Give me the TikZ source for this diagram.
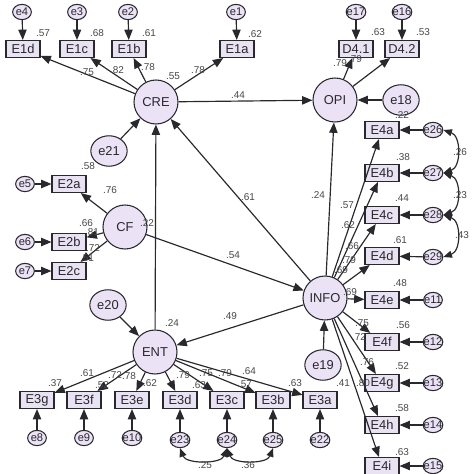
\documentclass[tikz,border=0pt]{standalone}
\usepackage{fontspec}
\setmainfont{Liberation Sans}
\usetikzlibrary{arrows.meta, shapes.geometric}
\definecolor{lav}{RGB}{236,226,246}
\definecolor{boxlav}{RGB}{232,226,242}
\definecolor{ink}{RGB}{40,40,45}

\begin{document}
\begin{tikzpicture}[
    x=0.03cm, y=-0.03cm,
    every node/.style={font=\fontsize{11}{12}\selectfont, text=ink},
    obs/.style={
        draw=ink,
        line width=0.9pt,
        fill=boxlav,
        inner xsep=2pt,
        inner ysep=0pt,
        minimum width=29pt,
        minimum height=14.5pt
    },
    latent/.style={
        circle,
        draw=ink,
        line width=0.9pt,
        fill=lav,
        inner sep=0pt,
        minimum size=1.32cm
    },
    err/.style={
        ellipse,
        draw=ink,
        line width=0.9pt,
        fill=lav,
        inner sep=-2pt,
        minimum width=16pt,
        minimum height=13pt,
        font=\fontsize{9.5}{10}\selectfont
    },
    bigerr/.style={
        ellipse,
        draw=ink,
        line width=0.9pt,
        fill=lav,
        inner sep=0pt,
        minimum width=31pt,
        minimum height=26pt
    },
    coef/.style={font=\fontsize{8.5}{9}\selectfont, text=black!72, inner sep=0pt},
    arrow/.style={-{Triangle[length=3.1mm, width=2.5mm]}, line width=1pt, draw=ink},
    cov/.style={{Triangle[length=2.6mm, width=2.1mm]}-{Triangle[length=2.6mm, width=2.1mm]}, line width=1pt, draw=ink}
]
\useasboundingbox (0,0) rectangle (474,474);

% latent variables
\node[latent] (CRE) at (156,102) {CRE};
\node[latent] (OPI) at (335,100) {OPI};
\node[latent] (CF) at (125,227) {CF};
\node[latent] (INFO) at (325,298) {INFO};
\node[latent] (ENT) at (155,352) {ENT};

\node[bigerr] (e18) at (401,100) {e18};
\node[bigerr] (e21) at (109,151) {e21};
\node[bigerr] (e20) at (108,305) {e20};
\node[bigerr] (e19) at (323,365) {e19};

% CRE indicators
\node[obs] (E1d) at (23,49) {E1d};
\node[obs] (E1c) at (77,49) {E1c};
\node[obs] (E1b) at (129,49) {E1b};
\node[obs] (E1a) at (237,49) {E1a};
\node[err] (e4) at (22,12) {e4};
\node[err] (e3) at (77,12) {e3};
\node[err] (e2) at (128,12) {e2};
\node[err] (e1) at (236,12) {e1};

% OPI indicators
\node[obs] (D41) at (356,49) {D4.1};
\node[obs] (D42) at (402,49) {D4.2};
\node[err] (e17) at (356,12) {e17};
\node[err] (e16) at (402,12) {e16};

% CF indicators
\node[obs] (E2a) at (69,184) {E2a};
\node[obs] (E2b) at (69,242) {E2b};
\node[obs] (E2c) at (69,271) {E2c};
\node[err] (e5) at (25,184) {e5};
\node[err] (e6) at (25,242) {e6};
\node[err] (e7) at (25,271) {e7};

% INFO indicators
\node[obs] (E4a) at (382,130) {E4a};
\node[obs] (E4b) at (382,173) {E4b};
\node[obs] (E4c) at (382,215) {E4c};
\node[obs] (E4d) at (382,256) {E4d};
\node[obs] (E4e) at (382,300) {E4e};
\node[obs] (E4f) at (382,342) {E4f};
\node[obs] (E4g) at (382,383) {E4g};
\node[obs] (E4h) at (382,425) {E4h};
\node[obs] (E4i) at (382,466) {E4i};
\node[err] (e26) at (433,130) {e26};
\node[err] (e27) at (433,173) {e27};
\node[err] (e28) at (433,215) {e28};
\node[err] (e29) at (433,257) {e29};
\node[err] (e11) at (433,300) {e11};
\node[err] (e12) at (433,342) {e12};
\node[err] (e13) at (433,383) {e13};
\node[err] (e14) at (433,425) {e14};
\node[err] (e15) at (433,466) {e15};

% ENT indicators
\node[obs] (E3g) at (37,400) {E3g};
\node[obs] (E3f) at (84,400) {E3f};
\node[obs] (E3e) at (132,400) {E3e};
\node[obs] (E3d) at (180,400) {E3d};
\node[obs] (E3c) at (227,400) {E3c};
\node[obs] (E3b) at (273,400) {E3b};
\node[obs] (E3a) at (320,400) {E3a};
\node[err] (e8) at (37,438) {e8};
\node[err] (e9) at (84,438) {e9};
\node[err] (e10) at (132,438) {e10};
\node[err] (e23) at (180,440) {e23};
\node[err] (e24) at (227,440) {e24};
\node[err] (e25) at (273,440) {e25};
\node[err] (e22) at (320,440) {e22};

% structural paths
\draw[arrow] (CRE) -- (OPI);
\draw[arrow] (INFO) -- (OPI);
\draw[arrow] (INFO) -- (CRE);
\draw[arrow] (ENT) -- (CRE);
\draw[arrow] (CF) -- (INFO);
\draw[arrow] (INFO) -- (ENT);
\draw[arrow] (e18) -- (OPI);
\draw[arrow] (e21) -- (CRE);
\draw[arrow] (e20) -- (ENT);
\draw[arrow] (e19) -- (INFO);

% loadings
\draw[arrow] (CRE) -- (E1d);
\draw[arrow] (CRE) -- (E1c);
\draw[arrow] (CRE) -- (E1b);
\draw[arrow] (CRE) -- (E1a);
\draw[arrow] (OPI) -- (D41);
\draw[arrow] (OPI) -- (D42);
\draw[arrow] (CF) -- (E2a);
\draw[arrow] (CF) -- (E2b);
\draw[arrow] (CF) -- (E2c);
\draw[arrow] (INFO) -- (E4a);
\draw[arrow] (INFO) -- (E4b);
\draw[arrow] (INFO) -- (E4c);
\draw[arrow] (INFO) -- (E4d);
\draw[arrow] (INFO) -- (E4e);
\draw[arrow] (INFO) -- (E4f);
\draw[arrow] (INFO) -- (E4g);
\draw[arrow] (INFO) -- (E4h);
\draw[arrow] (INFO) -- (E4i);
\draw[arrow] (ENT) -- (E3g);
\draw[arrow] (ENT) -- (E3f);
\draw[arrow] (ENT) -- (E3e);
\draw[arrow] (ENT) -- (E3d);
\draw[arrow] (ENT) -- (E3c);
\draw[arrow] (ENT) -- (E3b);
\draw[arrow] (ENT) -- (E3a);

% error terms
\draw[arrow] (e4) -- (E1d);
\draw[arrow] (e3) -- (E1c);
\draw[arrow] (e2) -- (E1b);
\draw[arrow] (e1) -- (E1a);
\draw[arrow] (e17) -- (D41);
\draw[arrow] (e16) -- (D42);
\draw[arrow] (e5) -- (E2a);
\draw[arrow] (e6) -- (E2b);
\draw[arrow] (e7) -- (E2c);
\draw[arrow] (e26) -- (E4a);
\draw[arrow] (e27) -- (E4b);
\draw[arrow] (e28) -- (E4c);
\draw[arrow] (e29) -- (E4d);
\draw[arrow] (e11) -- (E4e);
\draw[arrow] (e12) -- (E4f);
\draw[arrow] (e13) -- (E4g);
\draw[arrow] (e14) -- (E4h);
\draw[arrow] (e15) -- (E4i);
\draw[arrow] (e8) -- (E3g);
\draw[arrow] (e9) -- (E3f);
\draw[arrow] (e10) -- (E3e);
\draw[arrow] (e23) -- (E3d);
\draw[arrow] (e24) -- (E3c);
\draw[arrow] (e25) -- (E3b);
\draw[arrow] (e22) -- (E3a);

% covariances
\draw[cov] (e26.east) .. controls +(18,6) and +(18,-6) .. (e27.east);
\draw[cov] (e27.east) .. controls +(18,6) and +(18,-6) .. (e28.east);
\draw[cov] (e28.east) .. controls +(18,6) and +(18,-6) .. (e29.east);
\draw[cov] (e23.south) .. controls +(6,16) and +(-6,16) .. (e24.south);
\draw[cov] (e24.south) .. controls +(6,16) and +(-6,16) .. (e25.south);

% estimates
\node[coef] (w1) at (43,33) {.57};
\node[coef] (w2) at (97,33) {.68};
\node[coef] (w3) at (149,33) {.61};
\node[coef] (w4) at (255,34) {.62};
\node[coef] (w5) at (378,32) {.63};
\node[coef] (w6) at (423,32) {.53};
\node[coef] (w7) at (87,72) {.75};
\node[coef] (w8) at (117,70) {.82};
\node[coef] (w9) at (148,67) {.78};
\node[coef] (w10) at (173,76) {.55};
\node[coef] (w11) at (198,70) {.78};
\node[coef] (w12) at (238,95) {.44};
\node[coef] (w13) at (340,63) {.79};
\node[coef] (w14) at (355,59) {.79};
\node[coef] (w15) at (402,115) {.22};
\node[coef] (w16) at (88,166) {.58};
\node[coef] (w17) at (110,190) {.76};
\node[coef] (w18) at (147,223) {.22};
\node[coef] (w19) at (86,223) {.66};
\node[coef] (w20) at (92,232) {.81};
\node[coef] (w21) at (93,248) {.72};
\node[coef] (w22) at (87,258) {.51};
\node[coef] (w23) at (233,255) {.54};
\node[coef] (w24) at (248,197) {.61};
\node[coef] (w25) at (318,195) {.24};
\node[coef] (w26) at (403,157) {.38};
\node[coef] (w27) at (402,198) {.44};
\node[coef] (w28) at (400,240) {.61};
\node[coef] (w29) at (400,283) {.48};
\node[coef] (w30) at (460,152) {.26};
\node[coef] (w31) at (460,195) {.23};
\node[coef] (w32) at (462,235) {.43};
\node[coef] (w33) at (347,205) {.57};
\node[coef] (w34) at (348,225) {.62};
\node[coef] (w35) at (352,246) {.66};
\node[coef] (w36) at (349,260) {.79};
\node[coef] (w37) at (341,270) {.69};
\node[coef] (w38) at (350,292) {.69};
\node[coef] (w39) at (362,323) {.75};
\node[coef] (w40) at (359,337) {.72};
\node[coef] (w41) at (403,325) {.56};
\node[coef] (w42) at (367,362) {.76};
\node[coef] (w43) at (402,366) {.52};
\node[coef] (w44) at (363,383) {.80};
\node[coef] (w45) at (343,383) {.41};
\node[coef] (w46) at (402,408) {.58};
\node[coef] (w47) at (402,452) {.63};
\node[coef] (w48) at (172,323) {.24};
\node[coef] (w49) at (230,316) {.49};
\node[coef] (w50) at (55,383) {.37};
\node[coef] (w51) at (87,373) {.61};
\node[coef] (w52) at (102,385) {.52};
\node[coef] (w53) at (115,375) {.72};
\node[coef] (w54) at (129,376) {.78};
\node[coef] (w55) at (150,383) {.62};
\node[coef] (w56) at (183,375) {.79};
\node[coef] (w57) at (206,373) {.75};
\node[coef] (w58) at (199,385) {.63};
\node[coef] (w59) at (225,373) {.79};
\node[coef] (w60) at (245,384) {.57};
\node[coef] (w61) at (249,371) {.64};
\node[coef] (w62) at (295,383) {.63};
\node[coef] (w63) at (205,465) {.25};
\node[coef] (w64) at (248,465) {.36};

\end{tikzpicture}
\end{document}
